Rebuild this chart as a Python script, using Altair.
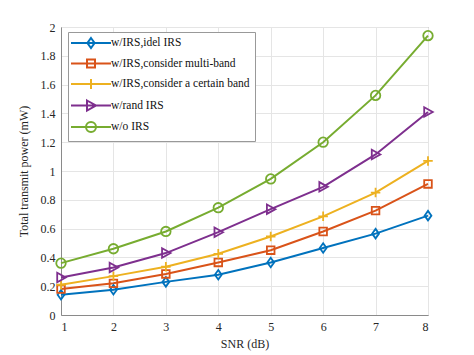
import altair as alt
import pandas as pd

snr = [1, 2, 3, 4, 5, 6, 7, 8]
series_names = [
    "w/IRS,idel IRS",
    "w/IRS,consider multi-band",
    "w/IRS,consider a certain band",
    "w/rand IRS",
    "w/o IRS",
]
ideal_irs = [0.14, 0.175, 0.23, 0.28, 0.365, 0.465, 0.565, 0.69]
multi_band = [0.18, 0.22, 0.285, 0.365, 0.45, 0.58, 0.725, 0.91]
certain_band = [0.21, 0.27, 0.335, 0.425, 0.545, 0.685, 0.85, 1.07]
rand_irs = [0.26, 0.33, 0.43, 0.575, 0.735, 0.89, 1.115, 1.41]
no_irs = [0.36, 0.46, 0.58, 0.745, 0.945, 1.2, 1.525, 1.94]
all_values = [ideal_irs, multi_band, certain_band, rand_irs, no_irs]

colors = ["#0072BD", "#D95319", "#EDB120", "#7E2F8E", "#77AC30"]
markers = [
    "M0,-1L0.72,0L0,1L-0.72,0Z",
    "M-0.8,-0.8L0.8,-0.8L0.8,0.8L-0.8,0.8Z",
    "M-1,0L1,0M0,-1L0,1",
    "M-0.8,-1L1,0L-0.8,1Z",
    "M-1,0A1,1 0 1,0 1,0A1,1 0 1,0 -1,0Z",
]
legend_shapes = ["M-4,0L4,0" + m for m in markers]

x_ticks = [1, 2, 3, 4, 5, 6, 7, 8]
y_ticks = [0, 0.2, 0.4, 0.6, 0.8, 1, 1.2, 1.4, 1.6, 1.8, 2]

rows = []
for name, vals in zip(series_names, all_values):
    for s, v in zip(snr, vals):
        rows.append({"snr": s, "power": v, "series": name})
df = pd.DataFrame(rows)

FONT = "Liberation Serif, Times New Roman, serif"
GRID = "#e5e5e5"
AXC = "#8a8a8a"

x_scale = alt.Scale(domain=[1, 8], nice=False, zero=False)
y_scale = alt.Scale(domain=[0, 2], nice=False)
color_scale = alt.Scale(domain=series_names, range=colors)

x_axis = alt.Axis(values=x_ticks, format="d", title="SNR (dB)", ticks=False,
                  labelPadding=6, titlePadding=6, labelFont=FONT, titleFont=FONT,
                  labelOverlap=False, tickCount=8)
y_axis = alt.Axis(values=y_ticks, format="~g", title="Total transmit power (mW)",
                  ticks=False, labelPadding=6, titlePadding=10, labelFont=FONT,
                  titleFont=FONT, labelOverlap=False, tickCount=11)


def xe(field="snr:Q"):
    return alt.X(field, scale=x_scale, axis=x_axis)


def ye():
    return alt.Y("power:Q", scale=y_scale, axis=y_axis)


base = alt.Chart(df)

layers = []
for name, col in zip(series_names, colors):
    layers.append(
        base.transform_filter(alt.datum.series == name)
        .mark_line(strokeWidth=2, color=col)
        .encode(x=xe(), y=ye())
    )
for name, col, mk in zip(series_names, colors, markers):
    layers.append(
        base.transform_filter(alt.datum.series == name)
        .mark_point(shape=mk, filled=False, size=90, strokeWidth=1.8, color=col, opacity=1)
        .encode(x=xe(), y=ye())
    )

legend_layer = base.transform_calculate(snr_off="datum.snr + 100").mark_point(
    filled=False, size=64, strokeWidth=2, clip=True, opacity=1
).encode(
    x=xe("snr_off:Q"), y=ye(),
    color=alt.Color("series:N", scale=color_scale, title=None,
                    legend=alt.Legend(orient="none", legendX=7, legendY=5,
                                      labelFont=FONT)),
    shape=alt.Shape("series:N", scale=alt.Scale(domain=series_names, range=legend_shapes),
                    title=None),
)
layers.append(legend_layer)

chart = alt.layer(*layers).properties(
    width=367, height=288,
    autosize=alt.AutoSizeParams(type="none"),
    padding={"left": 61, "top": 27, "right": 46, "bottom": 40},
    background="white",
).configure(
    font=FONT,
).configure_view(
    stroke=AXC, strokeWidth=1,
).configure_axis(
    labelFont=FONT, titleFont=FONT, labelFontSize=12, titleFontSize=12,
    titleFontWeight="normal", labelColor="#262626", titleColor="#262626",
    gridColor=GRID, gridWidth=1, domainColor=AXC,
).configure_legend(
    labelFont=FONT, labelFontSize=11.5, labelColor="#111",
    fillColor="white", strokeColor="#999", padding=5, cornerRadius=0,
    symbolOffset=12, labelOffset=14, rowPadding=3.5, symbolStrokeWidth=2,
)

chart.save("out.html", embed_options={"renderer": "svg", "actions": False})
